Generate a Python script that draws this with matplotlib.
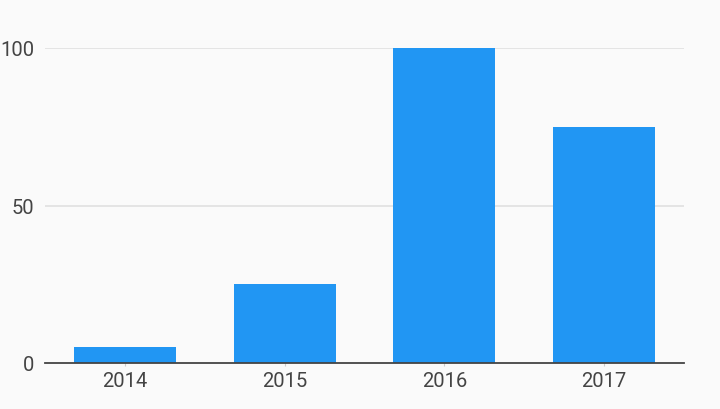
import matplotlib
matplotlib.use("Agg")
import matplotlib.pyplot as plt

years = ["2014", "2015", "2016", "2017"]
sales = [5, 25, 100, 75]
y_ticks = [0, 50, 100]

plt.rcParams['font.family'] = ['Roboto', 'DejaVu Sans']

fig = plt.figure(figsize=(7.2, 4.1), dpi=100, facecolor='#fafafa')
ax = fig.add_axes([45 / 720, 46 / 410, 639 / 720, 315 / 410])
ax.set_facecolor('#fafafa')

x = range(len(years))
ax.bar(x, sales, width=0.64, color='#2196f3', zorder=3, clip_on=False)

ax.set_xlim(-0.5, len(years) - 0.5)
ax.set_ylim(0, 100)
ax.set_xticks(list(x))
ax.set_xticklabels(years)
ax.set_yticks(y_ticks)

for y in y_ticks[1:]:
    ax.axhline(y, color='#e0e0e0', lw=1.2, zorder=1)

for s in ['top', 'right', 'left']:
    ax.spines[s].set_visible(False)
ax.spines['bottom'].set_color('#444444')
ax.spines['bottom'].set_linewidth(1.3)
ax.spines['bottom'].set_zorder(4)

ax.tick_params(axis='x', length=5, color='#cccccc', labelsize=14.5,
               labelcolor='#444444', pad=3, direction='inout')
ax.tick_params(axis='y', length=0, labelsize=14.5, labelcolor='#444444', pad=7.5)

fig.savefig('out.png', dpi=100, facecolor=fig.get_facecolor())
